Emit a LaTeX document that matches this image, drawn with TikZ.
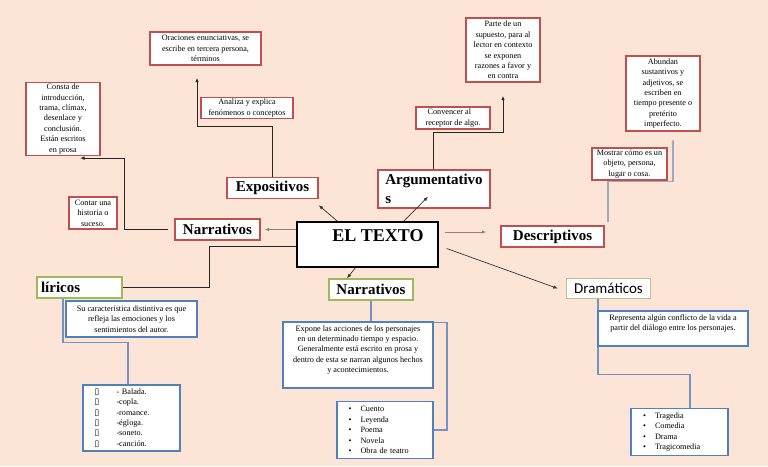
\documentclass[tikz,border=0pt]{standalone}
\usepackage{fontspec}
\setmainfont{Liberation Serif}
\newfontfamily\carlfont{Carlito}
\newfontfamily\dvfont{DejaVu Sans}
\usetikzlibrary{arrows.meta}
\pgfdeclarelayer{bglayer}
\pgfdeclarelayer{linelayer}
\pgfsetlayers{bglayer,linelayer,main}
\definecolor{peach}{HTML}{FCE4D6}
\definecolor{bred}{HTML}{C0504D}
\definecolor{bblue}{HTML}{4F81BD}
\definecolor{bgreen}{HTML}{9BBB59}
\definecolor{bolive}{HTML}{C4BC8A}
\definecolor{lblue}{HTML}{7393C3}
\definecolor{lgray}{HTML}{9AAABF}
\definecolor{abrown}{HTML}{8E7E74}
\newcommand\tofubox{\makebox[22pt][l]{\dvfont\fontsize{8.5}{8.5}\selectfont ▯}}
\newcommand\bulitem{\makebox[12pt][l]{\textbullet}}
\tikzset{
 smalltxt/.style={font=\fontsize{8.2}{10.4}\selectfont},
 bigtxt/.style={font=\bfseries\fontsize{15}{18}\selectfont},
 redbox/.style={draw=bred, line width=1.4pt, fill=white, inner sep=1.5pt, align=center},
 bluebox/.style={draw=bblue, line width=1.4pt, fill=white, inner sep=1.5pt, align=center},
 greenbox/.style={draw=bgreen, line width=1.4pt, fill=white, inner sep=2pt},
 olivebox/.style={draw=bolive, line width=1.4pt, fill=white, inner sep=2pt},
 mainbox/.style={draw=black, line width=1.3pt, fill=white},
 elbow/.style={draw=black!85, line width=1pt},
 blueline/.style={draw=lblue, line width=1.2pt},
 arrowtip/.style={-{Latex[length=4.5pt,width=3.5pt]}},
 arw/.style={draw=black!80, line width=0.7pt, arrowtip},
 arwb/.style={draw=abrown, line width=0.8pt, arrowtip},
 bare/.style={inner sep=0pt}
}
\begin{document}
\begin{tikzpicture}[x=1pt,y=-1pt]
\begin{pgfonlayer}{bglayer}
\fill[peach] (0,0) rectangle (768,466);
\end{pgfonlayer}
\useasboundingbox (0,0) rectangle (768,466);

% central node
\node[mainbox, minimum width=141pt, minimum height=45pt] (t) at (367.5,244.5) {};
\node[bare, font=\bfseries\fontsize{18}{20}\selectfont] (tt) at (378,236) {EL TEXTO};

% main categories
\node[redbox, bigtxt, minimum width=91pt, minimum height=21pt] (e) at (272.5,188) {Expositivos};
\node[redbox, minimum width=112pt, minimum height=38pt, align=left, font=\bfseries\fontsize{15}{19}\selectfont] (a) at (434,189) {Argumentativo\\s};
\node[redbox, bigtxt, minimum width=85pt, minimum height=21pt] (nl) at (217.5,229.5) {Narrativos};
\node[redbox, bigtxt, minimum width=103pt, minimum height=21pt] (d) at (552.5,236.5) {Descriptivos};
\node[greenbox, bigtxt, text width=77pt, inner xsep=4pt, align=left, minimum height=21pt] (l) at (79.5,287.5) {líricos};
\node[greenbox, bigtxt, minimum width=84pt, minimum height=21pt] (nc) at (371,289.5) {Narrativos};
\node[olivebox, font=\carlfont\fontsize{15}{18}\selectfont, minimum width=84pt, minimum height=20pt] (dr) at (608.5,288.5) {Dramáticos};

% small red boxes
\node[redbox, smalltxt, minimum width=74pt, minimum height=72pt] (c) at (63,119) {Consta de\\introducción,\\trama, clímax,\\desenlace y\\conclusión.\\Están escritos\\en prosa};
\node[redbox, smalltxt, minimum width=48pt, minimum height=32pt] (ct) at (93,213) {Contar una\\historia o\\suceso.};
\node[redbox, smalltxt, minimum width=111pt, minimum height=33pt] (o) at (205.5,48.5) {Oraciones enunciativas, se\\escribe en tercera persona,\\términos};
\node[redbox, smalltxt, minimum width=92pt, minimum height=20pt] (an) at (247,108) {Analiza y explica\\fenómenos o conceptos};
\node[redbox, smalltxt, minimum width=74pt, minimum height=64pt] (p) at (503,50) {Parte de un\\supuesto, para al\\lector en contexto\\se exponen\\razones a favor y\\en contra};
\node[redbox, smalltxt, minimum width=74pt, minimum height=22pt, align=left] (cv) at (453,118) {\ Convencer al\\receptor de algo.};
\node[redbox, smalltxt, minimum width=74pt, minimum height=75pt] (ab) at (663,93.5) {Abundan\\sustantivos y\\adjetivos, se\\escriben en\\tiempo presente o\\pretérito\\imperfecto.};
\node[redbox, smalltxt, minimum width=75pt, minimum height=32pt] (m) at (629.5,164) {Mostrar cómo es un\\objeto, persona,\\lugar o cosa.};

% blue boxes
\node[bluebox, smalltxt, minimum width=131pt, minimum height=36pt] (su) at (131.5,319) {Su característica distintiva es que\\refleja las emociones y los\\sentimientos del autor.};
\node[bluebox, smalltxt, minimum width=97pt, minimum height=66pt, text width=74pt, inner xsep=11pt, align=left] (ll) at (131.5,418) {\tofubox- Balada.\\\tofubox-copla.\\\tofubox-romance.\\\tofubox-égloga.\\\tofubox-soneto.\\\tofubox-canción.};
\node[bluebox, minimum width=150pt, minimum height=66pt] (ex) at (358,355) {};
\node[bare, smalltxt, align=center, anchor=north] (ext) at ([yshift=-4pt]ex.north) {Expone las acciones de los personajes\\en un determinado tiempo y espacio.\\Generalmente está escrito en prosa y\\dentro de esta se narran algunos hechos\\y acontecimientos.};
\node[bluebox, smalltxt, minimum width=96pt, minimum height=57pt, text width=73pt, inner xsep=11pt, align=left] (nl2) at (385,430) {\bulitem Cuento\\\bulitem Leyenda\\\bulitem Poema\\\bulitem Novela\\\bulitem Obra de teatro};
\node[bluebox, minimum width=150pt, minimum height=35pt] (rp) at (673,328.5) {};
\node[bare, smalltxt, anchor=north, align=center] (rpt) at ([yshift=-4pt]rp.north) {Representa algún conflicto de la vida a\\partir del diálogo entre los personajes.};
\node[bluebox, smalltxt, minimum width=97pt, minimum height=47pt, text width=73pt, inner xsep=12pt, align=left] (dl) at (679.5,432) {\bulitem Tragedia\\\bulitem Comedia\\\bulitem Drama\\\bulitem Tragicomedia};

% elbow connectors (behind boxes)
\begin{pgfonlayer}{linelayer}
\draw[elbow] ([yshift=-2pt]t.west) -- ++(-87,0) |- (l.east);
\draw[elbow,arrowtip] ([xshift=-6pt]nl.west) -- ++(-44,0) |- ([xshift=17pt,yshift=-2pt]c.south);
\draw[elbow,arrowtip] (e.north) -- ++(0,-50) -| ([xshift=-8.5pt,yshift=-12pt]o.south);
\draw[elbow,arrowtip] ([xshift=-1pt]a.north) -- ++(0,-37) -| ([yshift=-13pt]p.south);
\draw[draw=lgray,line width=1.2pt,arrowtip] ([xshift=55.5pt,yshift=3pt]d.north) -- ++(0,-41) -| ([xshift=10pt,yshift=-7pt]ab.south);
\draw[blueline] ([xshift=-16.5pt]l.south) -- ++(0,44) -| ([xshift=-3.5pt]ll.north);
\draw[blueline] (nc.south) -- ++(0,22) -- ++(76,0) |- (nl2.east);
\draw[blueline] ([xshift=-10.5pt]dr.south) -- ++(0,75) -| ([xshift=10.5pt]dl.north);
\end{pgfonlayer}

% straight arrows from EL TEXTO
\draw[arw] ([xshift=-30pt]t.north) -- ([yshift=-6pt]e.south east);
\draw[arw] ([xshift=36pt]t.north) -- ([xshift=-6pt,yshift=12pt]a.south);
\draw[arwb] ([yshift=15pt]t.west) -- ([xshift=4pt]nl.east);
\draw[arwb] ([xshift=6pt,yshift=12.5pt]t.east) -- ([xshift=-14pt,yshift=4.5pt]d.west);
\draw[arw] ([xshift=8pt,yshift=-4pt]t.east) -- ([xshift=-8pt]dr.west);
\draw[arw] ([xshift=-12pt]t.south) -- ([xshift=-24pt]nc.north);
\end{tikzpicture}
\end{document}
